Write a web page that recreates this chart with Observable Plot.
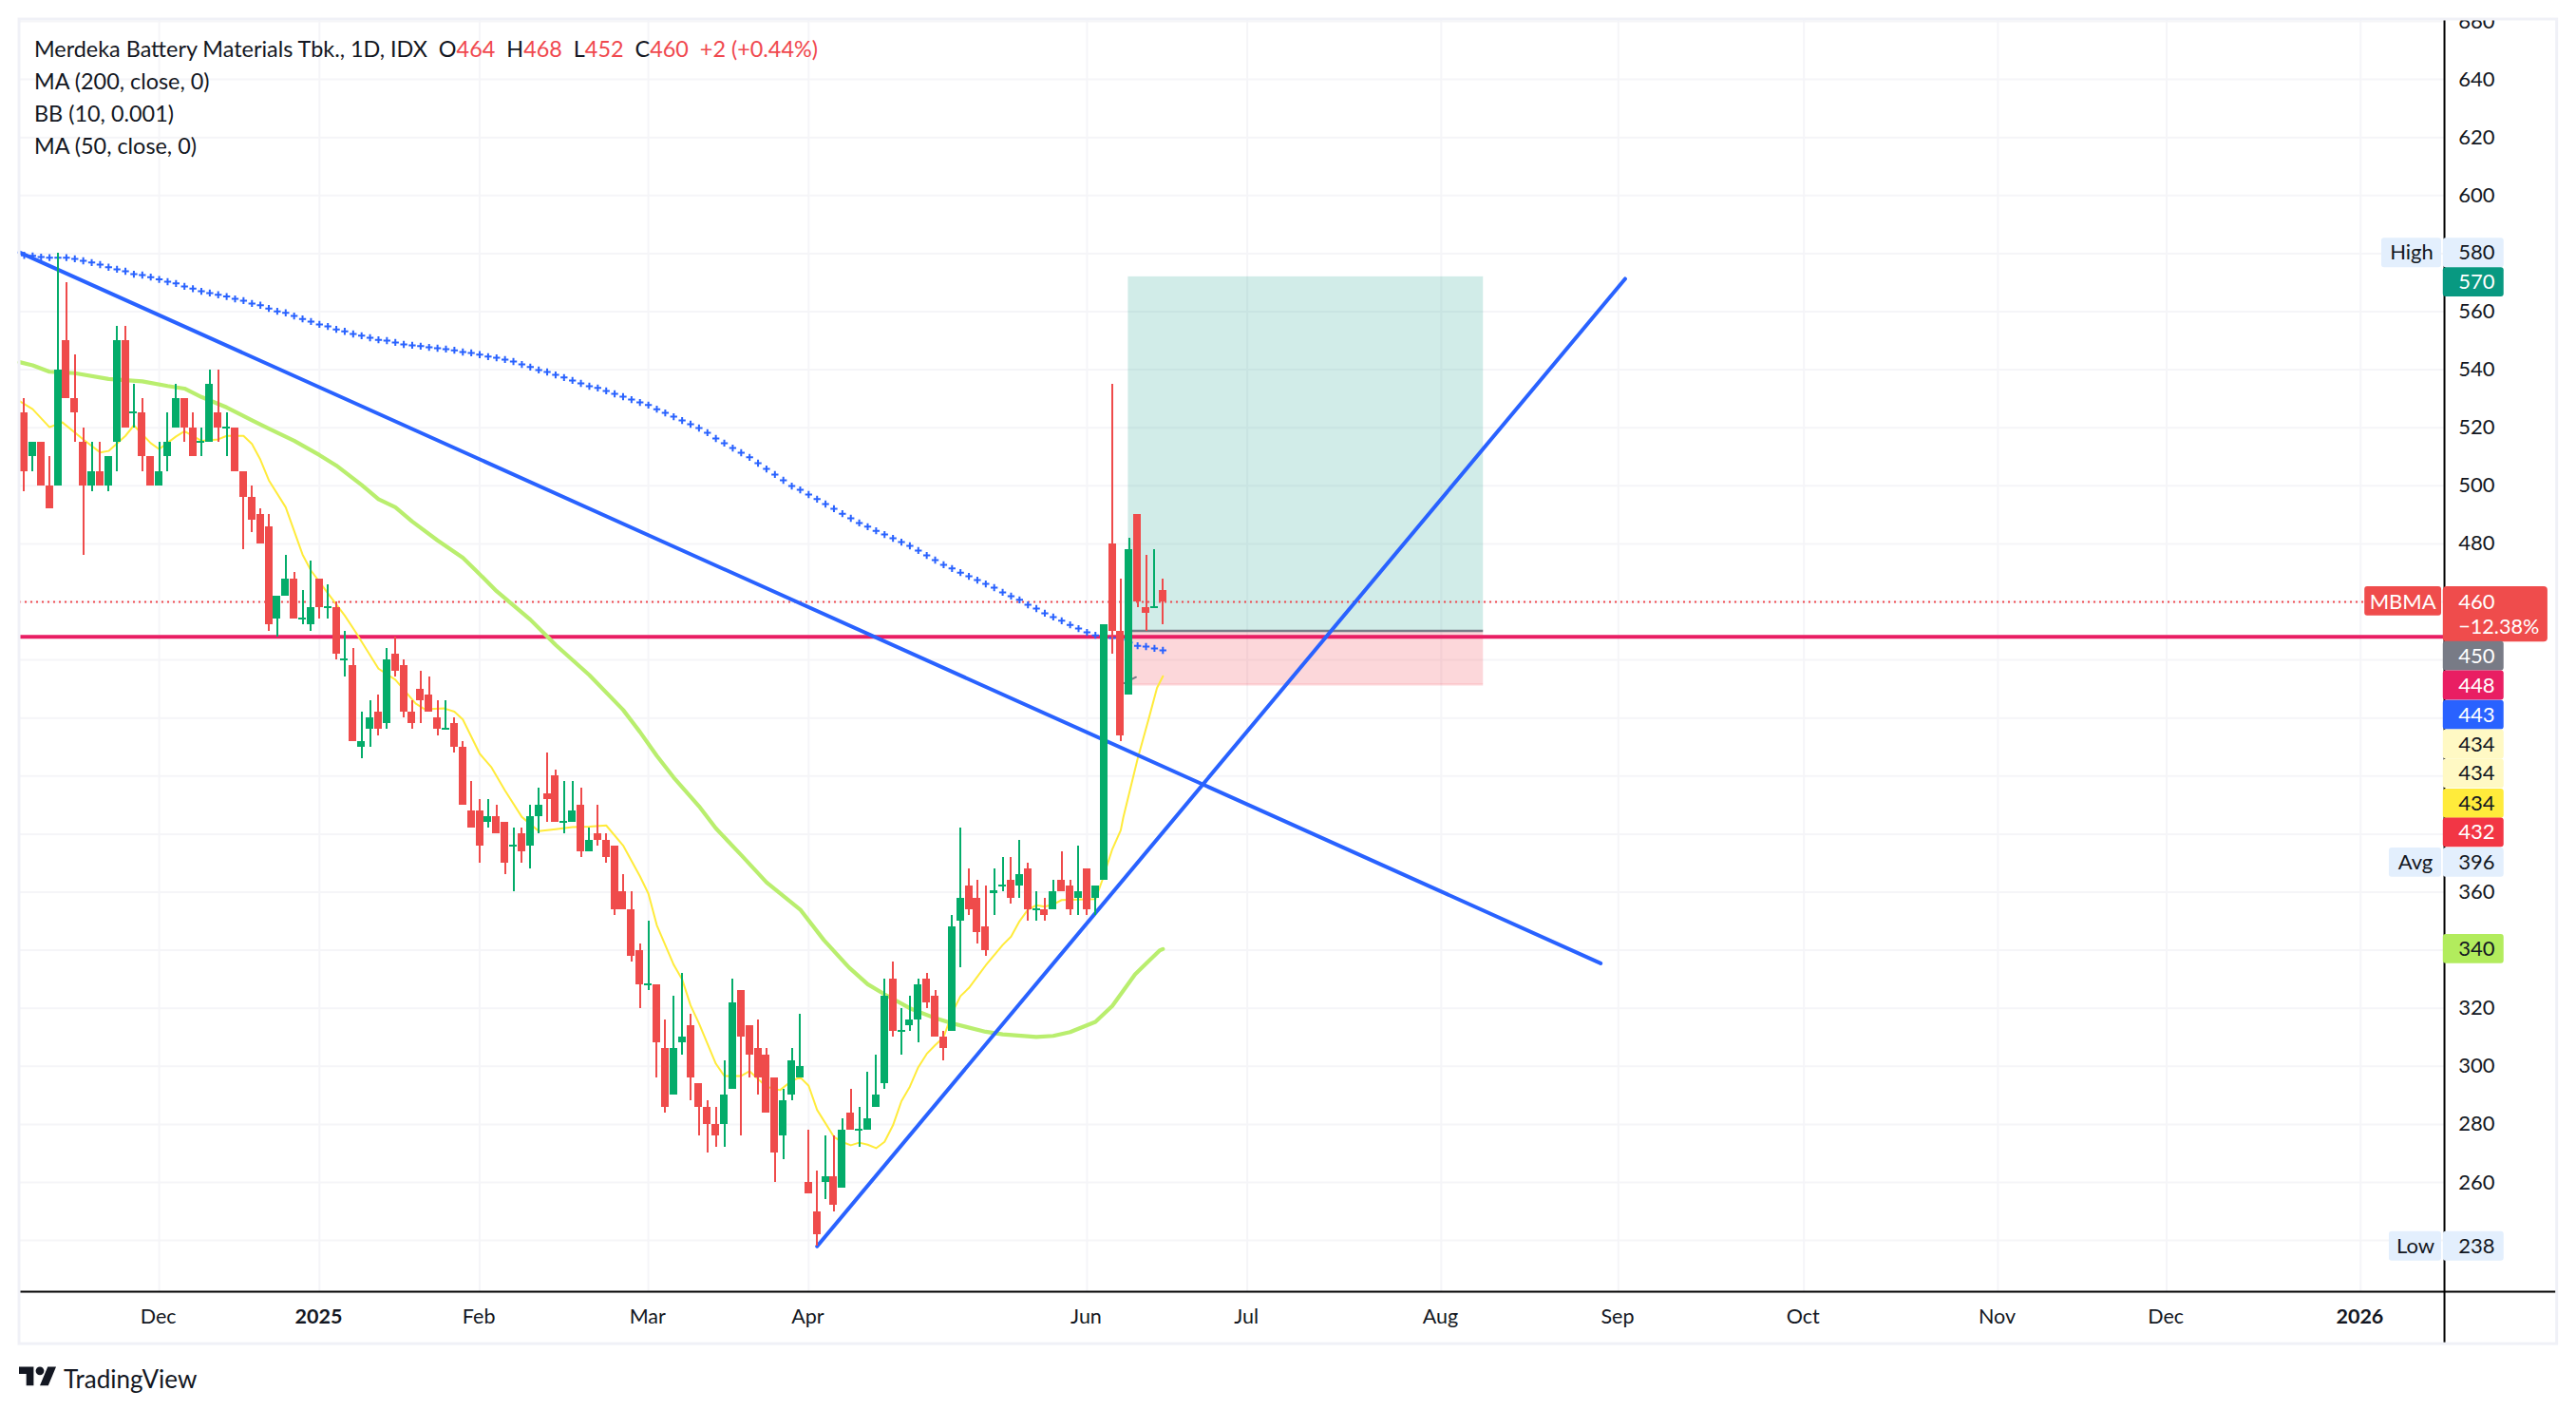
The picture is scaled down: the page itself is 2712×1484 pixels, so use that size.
<!DOCTYPE html>
<html>
<head>
<meta charset="utf-8">
<script src="https://cdn.jsdelivr.net/npm/d3@7"></script>
<script src="https://cdn.jsdelivr.net/npm/@observablehq/plot@0.6"></script>
<style>
html,body{margin:0;padding:0;background:#fff;width:2712px;height:1484px;overflow:hidden}
#wrap{position:relative;width:2712px;height:1484px;font-family:Lato,sans-serif;color:#131722}
#chart svg{display:block}
.lg{position:absolute;left:36px;font-size:23.4px;line-height:34px;white-space:pre}
.r{color:#f0484e}
#logo{position:absolute;left:20px;top:1433.6px}
#tv{position:absolute;left:67px;top:1433px;font-size:26px;line-height:36px;color:#131722}
</style>
</head>
<body>
<div id="wrap">
<div id="chart"></div>
<div class="lg" style="top:34px">Merdeka Battery Materials Tbk., 1D, IDX  O<span class="r">464</span>  H<span class="r">468</span>  L<span class="r">452</span>  C<span class="r">460</span>  <span class="r">+2 (+0.44%)</span></div>
<div class="lg" style="top:68px">MA (200, close, 0)</div>
<div class="lg" style="top:102px">BB (10, 0.001)</div>
<div class="lg" style="top:136px">MA (50, close, 0)</div>
<svg id="logo" width="39.6" height="30.8" viewBox="0 0 36 28"><path fill="#131722" d="M14 22H7V11H0V4h14v18zM28 22h-8l7.5-18h8L28 22z"/><circle fill="#131722" cx="20" cy="8" r="4"/></svg>
<div id="tv">TradingView</div>
</div>
<script>
// daily candles, one row per session
const opens = [525,510,515,500,500,550,530,515,500,505,500,515,550,525,525,510,500,510,520,530,520,515,515,525,520,520,505,496,490,486,454,462,468,454,452,468,458,458,440,438,410,416,422,418,442,438,422,430,428,420,416,418,410,388,388,384,386,384,376,380,376,386,394,400,384,384,390,374,380,378,376,360,354,340,328,328,306,290,308,314,294,286,280,280,292,326,314,306,304,296,276,290,296,260,250,260,262,258,284,278,278,286,294,330,312,314,316,330,324,310,312,350,362,358,348,360,362,364,362,368,354,354,354,364,362,358,368,358,364,480,450,428,490,458,458,464];
const highs = [530,515,515,510,580,570,545,520,515,515,510,555,555,535,530,510,515,525,535,530,525,520,540,540,525,520,505,500,492,490,462,476,470,464,474,468,466,460,450,444,422,426,428,444,448,440,426,436,434,426,426,420,412,398,392,392,390,384,382,382,390,396,408,402,398,398,396,382,390,380,376,366,360,342,350,328,316,324,332,318,294,288,286,302,330,326,314,316,306,296,292,306,318,278,264,276,276,282,292,286,298,304,330,336,320,324,330,332,326,312,352,382,368,364,362,368,372,372,378,370,360,358,364,374,364,376,368,362,452,535,468,482,490,476,478,468];
const lows = [498,505,500,492,500,530,515,476,498,500,498,505,520,520,505,500,500,505,520,515,510,510,515,515,510,505,478,484,480,450,448,462,454,452,450,454,454,440,434,412,406,410,414,416,434,420,416,418,422,414,416,408,390,382,370,382,380,366,360,370,368,380,384,384,380,384,372,374,376,370,352,354,336,320,326,296,284,290,304,288,276,270,272,272,292,276,296,290,284,260,268,288,296,256,238,254,250,258,278,272,278,286,292,310,304,312,308,320,310,302,312,334,352,342,338,352,360,356,358,350,350,350,354,360,352,352,352,352,364,442,412,428,458,450,458,452];
const closes = [505,515,500,492,540,530,525,500,505,500,510,550,520,525,510,500,505,515,530,520,510,515,535,520,520,505,496,488,480,452,462,468,454,454,458,458,458,442,440,412,412,420,416,440,436,422,418,426,422,416,416,410,390,382,376,386,380,370,376,374,386,390,392,384,384,388,374,378,378,372,354,354,338,328,328,308,286,306,310,296,286,280,276,290,322,310,304,296,284,270,288,302,300,256,242,262,252,278,278,278,282,290,324,312,312,316,328,322,310,306,348,358,354,346,340,360,362,358,366,354,354,352,360,360,354,360,354,362,452,450,414,478,460,456,458,460];

// MA 200, one reading per session
const ma200 = [579.4,579.2,578.8,578.6,578.6,578.6,578.2,577.5,576.9,576.2,575.3,574.6,573.9,572.9,572.6,571.9,571.1,570.3,569.7,568.7,567.9,567,566.4,565.8,565.2,564.4,563.8,562.8,562.2,561.1,560.1,559.6,558.5,557.5,556.6,555.6,554.9,553.9,553.2,552.3,551.7,551,550.3,550,549.4,548.7,548.4,548.1,547.7,547.4,547.1,546.7,
546.1,545.8,545.2,544.5,544.1,543.5,542.8,541.8,540.9,539.9,539.2,538.2,537.3,536.3,535.3,534.3,533.7,532.7,531.7,530.7,529.7,528.7,527.8,526.4,525.1,523.8,522.5,521.2,519.9,518.3,516.3,514.7,513,511.4,509.8,507.8,505.8,503.9,
501.9,499.9,498.6,497,495.4,493.7,492.1,490.4,488.8,487.2,485.9,484.5,483.2,481.9,480.6,479.3,477.7,476,474.4,472.8,471.5,470.1,468.8,467.5,466.2,464.9,463.3,462,460.7,459,457.7,456.1,454.8,453.5,452.1,450.8,
449.5,448.5,448,447.6,447,446,444.9,444.6,444,443.3];

// BB basis (yellow), readings at these session numbers
const basisBars = [-0.56,1,3,4.5,7,9,10,12,13,15,16,18,19,21,23,24,26,27,28,29,31,33,34,36,38,39.2,42,44,46.4,47.5,49.8,51,52,54,55.4,57,59,61,63,65,67,69,71,73,74,75,77,78,79,80,82,83,85,86,88,89.6,91,92,93,94,96,97,98,99,100,101,102,103,104,105,106,107,108,109,110,111,112,114,116,117,118,119,120,121,122,123,125,127,127.8,129,130,130.3,132,133.4,134.3,135];
const basisVals = [529.2,526.4,520.2,521.9,516,511.5,512,517.2,520.8,514.7,512.6,517,518.8,515.5,516,517.2,517.2,514.4,509,501.9,492.6,476.3,470.8,463,455.3,450,437,433.2,425,423,423.3,422.2,419.5,407.7,403,395,385.9,381,381.7,382.4,382.6,383,376.1,365.5,359.5,348.6,335,330,321,314.8,300.9,296.7,296.7,298.3,293,291.8,295,296.2,293.3,285,275.7,273.9,272.8,273.7,273,271.8,274,279.7,288,293,299.7,304.3,307.3,310,318.3,324.2,327,334.8,341.8,344.7,350,354,355.5,355,355.8,357.3,357.5,357.6,364,374.8,381.3,385.7,405.9,420.6,430.4,434.4];

// MA 50 (green), readings at these session numbers
const ma50Bars = [-0.56,1,3,6,10,14,17,19,21,24,27,29,32,35,37,40,42,44,46,49,52,53.5,56,60,63,67,71,73,75,77,80,82,85,88,92,94.8,97.8,100,102,105,108,110,114,116,120,122,124,127,129,131.7,134.6,135];
const ma50Vals = [542.6,541.5,539.3,538.8,536.8,536,534.4,533.5,530.6,527,522.6,519.7,515.5,510.6,507,500.3,495.4,492.6,487.7,481.2,475.2,471,463.7,453.9,445.2,434.8,422.8,415.2,407,399.5,389.6,382,372.8,363.4,354,343.5,334,328.3,324.8,320,316.6,314.8,311.9,311,310.1,310.5,311.8,315.3,320.8,331.7,339.9,340.4];

// drawn trend lines
const downBars = [-0.56,186.9], downVals = [580.4,335.5];
const upBars = [94,189.8], upVals = [238,571.3];

// long position tool
const posStart = 130.9, posEnd = 173, target = 572, entry = 450, stop = 431.5;
const lastClose = 460, support = 448;

// axes
const priceGrid = d3.range(240, 661, 20);
const priceTicks = [660,640,620,600,560,540,520,500,480,360,320,300,280,260];
const timeLabels = ["Dec","2025","Feb","Mar","Apr","Jun","Jul","Aug","Sep","Oct","Nov","Dec","2026"];
const timeBars = [16,35,54,74,93,126,145,168,189,211,234,254,277];
const timeBold = ["2025","2026"];

// price tags on the axis
const tagText = ["450","448","443","434","434","434","432","396","340","580","570","238"];
const tagFill = ["#787b86","#e91e63","#2962ff","#fff9c4","#fff9c4","#ffeb3b","#f23645","#e3effd","#b2ec5d","#e3effd","#089981","#e3effd"];
const tagInk = ["#fff","#fff","#fff","#131722","#131722","#131722","#fff","#131722","#131722","#131722","#fff","#131722"];
const tagAt = [441.3,431.2,421,410.9,400.8,390.5,380.5,370.2,340.4,580.2,570.1,238];
const sideText = ["High","Avg","Low"];
const sideAt = [580.2,370.2,238];
const sideStart = [279.5,280.4,280.4];

const n = closes.length;
const idx = d3.range(n);
const up = i => closes[i] >= opens[i];
const UP = "#04ac6a", DOWN = "#ef4b4b";

const FX = -0.56, AX = 286.94, RX = 300.3;      // frame left, price axis, frame right (in sessions)
const TOP = 660.65, TIMEY = 222.35, BOT = 204.3; // frame top, time axis, frame bottom (in price)
const TX1 = 286.8, TX2 = 294, LBL = 288.6, HH = 5.05;
const timeIdx = d3.range(timeLabels.length);
const isBold = i => timeBold.includes(timeLabels[i]);

const marks = [
  // grid
  Plot.ruleY(priceGrid, {x1: FX, x2: AX, stroke: "#f5f5f8", strokeWidth: 2}),
  Plot.ruleX(timeBars, {y1: TIMEY, y2: TOP, stroke: "#f5f5f8", strokeWidth: 2}),
  // position zones
  Plot.rect([0], {x1: posStart, x2: posEnd, y1: entry, y2: target, fill: "#089981", fillOpacity: 0.185}),
  Plot.rect([0], {x1: posStart, x2: posEnd, y1: stop, y2: entry, fill: "#f23645", fillOpacity: 0.2}),
  Plot.ruleY([stop], {x1: posStart, x2: posEnd, stroke: "#f23645", strokeOpacity: 0.2, strokeWidth: 2}),
  Plot.ruleY([entry], {x1: posStart, x2: posEnd, stroke: "#787b86", strokeWidth: 2.5}),
  Plot.line([[130.4,432],[132.1,434.5]], {x: d => d[0], y: d => d[1], stroke: "#787b86", strokeWidth: 2, strokeDasharray: "5 4"}),
  // price and support lines
  Plot.ruleY([lastClose], {x1: FX, x2: 277.5, stroke: "#f0484e", strokeWidth: 2, strokeDasharray: "2 4"}),
  Plot.ruleY([support], {x1: FX, x2: AX, stroke: "#e91e63", strokeWidth: 4}),
  // indicators
  Plot.line(d3.zip(basisBars, basisVals), {x: d => d[0], y: d => d[1], stroke: "#ffeb3b", strokeWidth: 2}),
  Plot.line(d3.zip(ma50Bars, ma50Vals), {x: d => d[0], y: d => d[1], stroke: "#b9ee6e", strokeWidth: 4.2}),
  Plot.dot(idx, {x: i => i, y: i => ma200[i], symbol: "plus", r: 2.5, stroke: "#2962ff", strokeWidth: 2}),
  // trend lines
  Plot.line(d3.zip(downBars, downVals), {x: d => d[0], y: d => d[1], stroke: "#2962ff", strokeWidth: 4}),
  Plot.line(d3.zip(upBars, upVals), {x: d => d[0], y: d => d[1], stroke: "#2962ff", strokeWidth: 4}),
  // candles
  Plot.ruleX(idx, {x: i => i, y1: i => lows[i], y2: i => highs[i], stroke: i => up(i) ? UP : DOWN, strokeWidth: 2, shapeRendering: "crispEdges"}),
  Plot.rect(idx, {
    x1: i => i - 0.45, x2: i => i + 0.45,
    y1: i => Math.min(opens[i], closes[i]) - (opens[i] === closes[i] ? 0.33 : 0),
    y2: i => Math.max(opens[i], closes[i]) + (opens[i] === closes[i] ? 0.33 : 0),
    fill: i => up(i) ? UP : DOWN, shapeRendering: "crispEdges"
  }),
  // axis lines
  Plot.ruleX([AX], {y1: BOT, y2: TOP, stroke: "#000", strokeWidth: 2}),
  Plot.ruleY([TIMEY], {x1: FX, x2: RX, stroke: "#000", strokeWidth: 2}),
  // tick labels
  Plot.text(priceTicks, {x: LBL, y: d => d, text: d => String(d), textAnchor: "start", fontSize: 22, fill: "#131722"}),
  Plot.text(timeIdx.filter(i => !isBold(i)), {x: i => timeBars[i] - 0.1, y: 213.5, text: i => timeLabels[i], fontSize: 21.5, fill: "#131722"}),
  Plot.text(timeIdx.filter(isBold), {x: i => timeBars[i] - 0.1, y: 213.5, text: i => timeLabels[i], fontSize: 21.5, fontWeight: 700, fill: "#131722"}),
  // last price tag
  Plot.rect([0], {x1: TX1, x2: 299.2, y1: 446.2, y2: 465.2, fill: "#ef4c4c", rx: 4}),
  Plot.rect([0], {x1: 277.5, x2: 286.6, y1: 455.2, y2: 465.2, fill: "#ef4c4c", rx: 3}),
  Plot.text(["460"], {x: LBL, y: 460, text: d => d, textAnchor: "start", fontSize: 22, fill: "#fff"}),
  Plot.text(["−12.38%"], {x: LBL, y: 451.3, text: d => d, textAnchor: "start", fontSize: 21.6, fill: "#fff"}),
  Plot.text(["MBMA"], {x: 282, y: 460, text: d => d, fontSize: 22, fill: "#fff"}),
  // other tags
  Plot.rect(tagText, {x1: TX1, x2: TX2, y1: (d, i) => tagAt[i] - HH, y2: (d, i) => tagAt[i] + HH, fill: (d, i) => tagFill[i], rx: 3}),
  Plot.text(tagText, {x: LBL, y: (d, i) => tagAt[i], text: d => d, textAnchor: "start", fontSize: 22, fill: (d, i) => tagInk[i]}),
  Plot.rect(sideText, {x1: (d, i) => sideStart[i], x2: 286.6, y1: (d, i) => sideAt[i] - HH, y2: (d, i) => sideAt[i] + HH, fill: "#e3effd", rx: 3}),
  Plot.text(sideText, {x: (d, i) => (sideStart[i] + 286.6) / 2, y: (d, i) => sideAt[i], text: d => d, fontSize: 22, fill: "#131722"}),
  // clip above frame, then the frame
  Plot.rect([0], {x1: -3, x2: 303, y1: TOP, y2: 667.2, fill: "#fff"}),
  Plot.rect([0], {x1: FX, x2: RX, y1: BOT, y2: TOP, fill: "none", stroke: "#f0f1f7", strokeWidth: 3})
];

const chart = Plot.plot({
  width: 2712, height: 1484,
  marginLeft: 0, marginRight: 0, marginTop: 0, marginBottom: 0,
  style: {background: "transparent", fontFamily: "Lato, sans-serif"},
  x: {type: "linear", domain: [-2.815, 302.59], range: [0, 2712], axis: null},
  y: {type: "linear", domain: [181.44, 667.2], range: [1484, 0], axis: null},
  marks
});
document.getElementById("chart").appendChild(chart);
</script>
</body>
</html>
